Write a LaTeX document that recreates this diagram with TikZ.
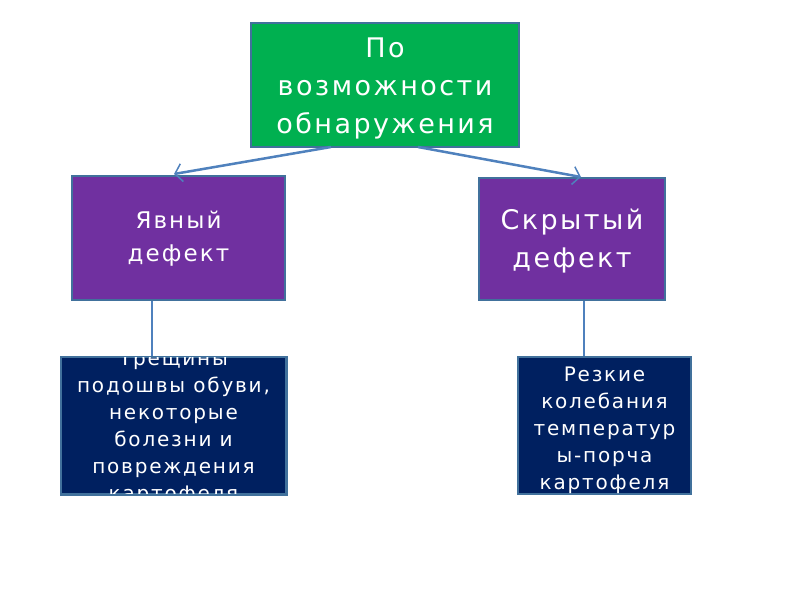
\documentclass[tikz,border=0pt]{standalone}
\usepackage{fontspec}
\setmainfont{DejaVu Sans}[LetterSpace=9]
\usetikzlibrary{arrows.meta}
\definecolor{grn}{HTML}{00B050}
\definecolor{prp}{HTML}{7030A0}
\definecolor{nvy}{HTML}{002060}
\definecolor{bord}{HTML}{41719C}
\definecolor{conn}{HTML}{4F81BD}
\tikzset{
  box/.style={draw=bord, line width=1.5pt, inner sep=0pt},
  lbl/.style={text=white, align=center, inner sep=0pt},
  link/.style={draw=conn, line width=2.5pt, -{Straight Barb[length=7pt,width=18pt,line width=1.5pt]}},
  vline/.style={draw=conn, line width=1.2pt}
}
\begin{document}
\begin{tikzpicture}[x=1pt,y=-1pt]
\useasboundingbox (0,0) rectangle (800,600);
\fill[white] (0,0) rectangle (800,600);
% top
\node[box, fill=grn, minimum width=268pt, minimum height=124pt] (top) at (385,85) {};
\node[lbl, font=\fontsize{27}{38}\selectfont] (toptxt) at (385,88) {По\\возможности\\обнаружения };
% middle
\node[box, fill=prp, minimum width=213pt, minimum height=124pt] (yav) at (178.5,238) {};
\node[lbl, font=\fontsize{23}{33}\selectfont] (yavtxt) at (178.5,239) {Явный\\дефект};
\node[box, fill=prp, minimum width=186pt, minimum height=122pt] (skr) at (572,239) {};
\node[lbl, font=\fontsize{27}{38}\selectfont] (skrtxt) at (572,241) {Скрытый\\дефект};
% bottom
\node[box, fill=nvy, minimum width=225pt, minimum height=137pt] (bl) at (173.5,425.5) {};
\begin{scope}
\clip (61,357) rectangle (286,494);
\node[lbl, font=\fontsize{20}{27}\selectfont] (bltxt) at (173.5,428) {Трещины\\подошвы обуви,\\некоторые\\болезни и\\повреждения\\картофеля};
\end{scope}
\draw[draw=bord, line width=1.5pt] (bl.south west) rectangle (bl.north east);
\node[box, fill=nvy, minimum width=173pt, minimum height=137pt] (br) at (604.5,425.5) {};
\node[lbl, font=\fontsize{20}{27}\selectfont] (brtxt) at (604.5,430) {Резкие\\колебания\\температур\\ы-порча\\картофеля};
% connectors
\coordinate (tl) at (331,147);
\coordinate (tr) at (418,147);
\coordinate (al) at (174,174);
\coordinate (ar) at (581,177);
\draw[link] (tl) -- (al);
\draw[link] (tr) -- (ar);
\draw[vline] (yav.south -| 152,0) -- (bl.north -| 152,0);
\draw[vline] (skr.south -| 584,0) -- (br.north -| 584,0);
\end{tikzpicture}
\end{document}
